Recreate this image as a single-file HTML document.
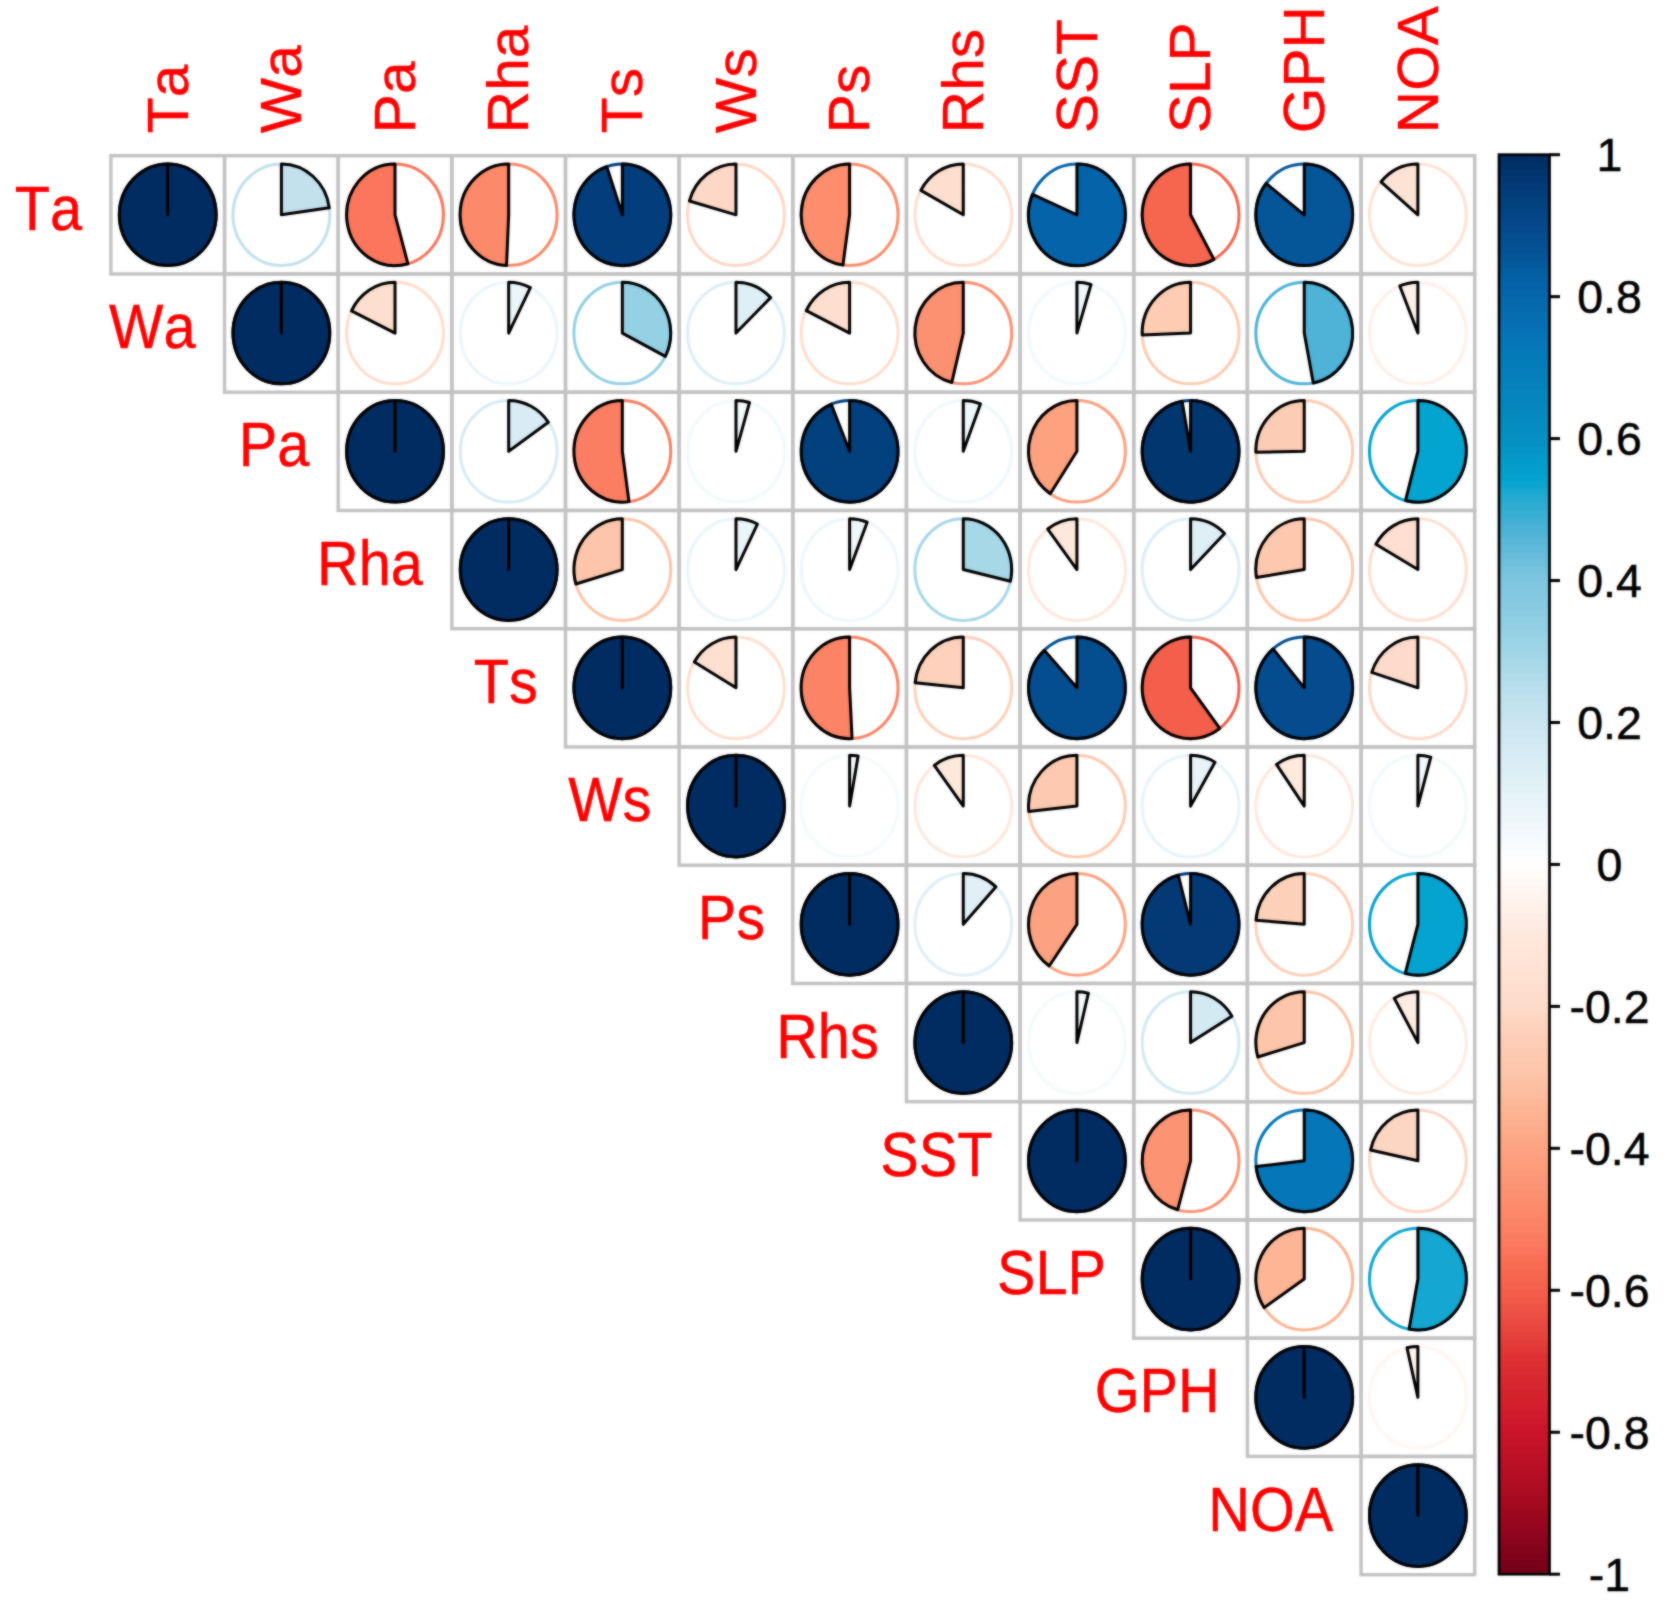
<!DOCTYPE html>
<html><head><meta charset="utf-8"><title>Correlation plot</title>
<style>html,body{margin:0;padding:0;background:#fff}svg{display:block}</style></head>
<body>
<svg width="1675" height="1619" viewBox="0 0 1675 1619">
<rect width="1675" height="1619" fill="#fff"/>
<filter id="soft" x="0" y="0" width="1675" height="1619" filterUnits="userSpaceOnUse" color-interpolation-filters="sRGB"><feGaussianBlur stdDeviation="1.0"/></filter>
<g id="c">
<rect width="1675" height="1619" fill="#fff"/>
<g fill="none" stroke="#c3c3c3" stroke-width="3.4">
<rect x="110.90" y="155.70" width="113.65" height="118.25"/>
<rect x="224.55" y="155.70" width="113.65" height="118.25"/>
<rect x="338.20" y="155.70" width="113.65" height="118.25"/>
<rect x="451.85" y="155.70" width="113.65" height="118.25"/>
<rect x="565.50" y="155.70" width="113.65" height="118.25"/>
<rect x="679.15" y="155.70" width="113.65" height="118.25"/>
<rect x="792.80" y="155.70" width="113.65" height="118.25"/>
<rect x="906.45" y="155.70" width="113.65" height="118.25"/>
<rect x="1020.10" y="155.70" width="113.65" height="118.25"/>
<rect x="1133.75" y="155.70" width="113.65" height="118.25"/>
<rect x="1247.40" y="155.70" width="113.65" height="118.25"/>
<rect x="1361.05" y="155.70" width="113.65" height="118.25"/>
<rect x="224.55" y="273.95" width="113.65" height="118.25"/>
<rect x="338.20" y="273.95" width="113.65" height="118.25"/>
<rect x="451.85" y="273.95" width="113.65" height="118.25"/>
<rect x="565.50" y="273.95" width="113.65" height="118.25"/>
<rect x="679.15" y="273.95" width="113.65" height="118.25"/>
<rect x="792.80" y="273.95" width="113.65" height="118.25"/>
<rect x="906.45" y="273.95" width="113.65" height="118.25"/>
<rect x="1020.10" y="273.95" width="113.65" height="118.25"/>
<rect x="1133.75" y="273.95" width="113.65" height="118.25"/>
<rect x="1247.40" y="273.95" width="113.65" height="118.25"/>
<rect x="1361.05" y="273.95" width="113.65" height="118.25"/>
<rect x="338.20" y="392.20" width="113.65" height="118.25"/>
<rect x="451.85" y="392.20" width="113.65" height="118.25"/>
<rect x="565.50" y="392.20" width="113.65" height="118.25"/>
<rect x="679.15" y="392.20" width="113.65" height="118.25"/>
<rect x="792.80" y="392.20" width="113.65" height="118.25"/>
<rect x="906.45" y="392.20" width="113.65" height="118.25"/>
<rect x="1020.10" y="392.20" width="113.65" height="118.25"/>
<rect x="1133.75" y="392.20" width="113.65" height="118.25"/>
<rect x="1247.40" y="392.20" width="113.65" height="118.25"/>
<rect x="1361.05" y="392.20" width="113.65" height="118.25"/>
<rect x="451.85" y="510.45" width="113.65" height="118.25"/>
<rect x="565.50" y="510.45" width="113.65" height="118.25"/>
<rect x="679.15" y="510.45" width="113.65" height="118.25"/>
<rect x="792.80" y="510.45" width="113.65" height="118.25"/>
<rect x="906.45" y="510.45" width="113.65" height="118.25"/>
<rect x="1020.10" y="510.45" width="113.65" height="118.25"/>
<rect x="1133.75" y="510.45" width="113.65" height="118.25"/>
<rect x="1247.40" y="510.45" width="113.65" height="118.25"/>
<rect x="1361.05" y="510.45" width="113.65" height="118.25"/>
<rect x="565.50" y="628.70" width="113.65" height="118.25"/>
<rect x="679.15" y="628.70" width="113.65" height="118.25"/>
<rect x="792.80" y="628.70" width="113.65" height="118.25"/>
<rect x="906.45" y="628.70" width="113.65" height="118.25"/>
<rect x="1020.10" y="628.70" width="113.65" height="118.25"/>
<rect x="1133.75" y="628.70" width="113.65" height="118.25"/>
<rect x="1247.40" y="628.70" width="113.65" height="118.25"/>
<rect x="1361.05" y="628.70" width="113.65" height="118.25"/>
<rect x="679.15" y="746.95" width="113.65" height="118.25"/>
<rect x="792.80" y="746.95" width="113.65" height="118.25"/>
<rect x="906.45" y="746.95" width="113.65" height="118.25"/>
<rect x="1020.10" y="746.95" width="113.65" height="118.25"/>
<rect x="1133.75" y="746.95" width="113.65" height="118.25"/>
<rect x="1247.40" y="746.95" width="113.65" height="118.25"/>
<rect x="1361.05" y="746.95" width="113.65" height="118.25"/>
<rect x="792.80" y="865.20" width="113.65" height="118.25"/>
<rect x="906.45" y="865.20" width="113.65" height="118.25"/>
<rect x="1020.10" y="865.20" width="113.65" height="118.25"/>
<rect x="1133.75" y="865.20" width="113.65" height="118.25"/>
<rect x="1247.40" y="865.20" width="113.65" height="118.25"/>
<rect x="1361.05" y="865.20" width="113.65" height="118.25"/>
<rect x="906.45" y="983.45" width="113.65" height="118.25"/>
<rect x="1020.10" y="983.45" width="113.65" height="118.25"/>
<rect x="1133.75" y="983.45" width="113.65" height="118.25"/>
<rect x="1247.40" y="983.45" width="113.65" height="118.25"/>
<rect x="1361.05" y="983.45" width="113.65" height="118.25"/>
<rect x="1020.10" y="1101.70" width="113.65" height="118.25"/>
<rect x="1133.75" y="1101.70" width="113.65" height="118.25"/>
<rect x="1247.40" y="1101.70" width="113.65" height="118.25"/>
<rect x="1361.05" y="1101.70" width="113.65" height="118.25"/>
<rect x="1133.75" y="1219.95" width="113.65" height="118.25"/>
<rect x="1247.40" y="1219.95" width="113.65" height="118.25"/>
<rect x="1361.05" y="1219.95" width="113.65" height="118.25"/>
<rect x="1247.40" y="1338.20" width="113.65" height="118.25"/>
<rect x="1361.05" y="1338.20" width="113.65" height="118.25"/>
<rect x="1361.05" y="1456.45" width="113.65" height="118.25"/>
</g>
<g fill="none" stroke-width="3.0">
<ellipse cx="167.73" cy="214.82" rx="48.40" ry="50.80" stroke="#012C61"/>
<ellipse cx="281.38" cy="214.82" rx="48.40" ry="50.80" stroke="#C2E1ED"/>
<ellipse cx="395.02" cy="214.82" rx="48.40" ry="50.80" stroke="#FB765C"/>
<ellipse cx="508.68" cy="214.82" rx="48.40" ry="50.80" stroke="#FC8969"/>
<ellipse cx="622.33" cy="214.82" rx="48.40" ry="50.80" stroke="#033D7B"/>
<ellipse cx="735.98" cy="214.82" rx="48.40" ry="50.80" stroke="#FDD8C7"/>
<ellipse cx="849.62" cy="214.82" rx="48.40" ry="50.80" stroke="#FC8D6D"/>
<ellipse cx="963.27" cy="214.82" rx="48.40" ry="50.80" stroke="#FEDFCF"/>
<ellipse cx="1076.93" cy="214.82" rx="48.40" ry="50.80" stroke="#0564A9"/>
<ellipse cx="1190.58" cy="214.82" rx="48.40" ry="50.80" stroke="#F6654E"/>
<ellipse cx="1304.23" cy="214.82" rx="48.40" ry="50.80" stroke="#045699"/>
<ellipse cx="1417.88" cy="214.82" rx="48.40" ry="50.80" stroke="#FEE3D5"/>
<ellipse cx="281.38" cy="333.07" rx="48.40" ry="50.80" stroke="#012C61"/>
<ellipse cx="395.02" cy="333.07" rx="48.40" ry="50.80" stroke="#FEDECE"/>
<ellipse cx="508.68" cy="333.07" rx="48.40" ry="50.80" stroke="#EBF6FA"/>
<ellipse cx="622.33" cy="333.07" rx="48.40" ry="50.80" stroke="#94D1E4"/>
<ellipse cx="735.98" cy="333.07" rx="48.40" ry="50.80" stroke="#DEEFF6"/>
<ellipse cx="849.62" cy="333.07" rx="48.40" ry="50.80" stroke="#FEDECE"/>
<ellipse cx="963.27" cy="333.07" rx="48.40" ry="50.80" stroke="#FC9171"/>
<ellipse cx="1076.93" cy="333.07" rx="48.40" ry="50.80" stroke="#F2F9FC"/>
<ellipse cx="1190.58" cy="333.07" rx="48.40" ry="50.80" stroke="#FDCCB3"/>
<ellipse cx="1304.23" cy="333.07" rx="48.40" ry="50.80" stroke="#4EB3D6"/>
<ellipse cx="1417.88" cy="333.07" rx="48.40" ry="50.80" stroke="#FFF0E9"/>
<ellipse cx="395.02" cy="451.32" rx="48.40" ry="50.80" stroke="#012C61"/>
<ellipse cx="508.68" cy="451.32" rx="48.40" ry="50.80" stroke="#D7ECF4"/>
<ellipse cx="622.33" cy="451.32" rx="48.40" ry="50.80" stroke="#FB7E62"/>
<ellipse cx="735.98" cy="451.32" rx="48.40" ry="50.80" stroke="#F3F9FC"/>
<ellipse cx="849.62" cy="451.32" rx="48.40" ry="50.80" stroke="#03407E"/>
<ellipse cx="963.27" cy="451.32" rx="48.40" ry="50.80" stroke="#EFF8FB"/>
<ellipse cx="1076.93" cy="451.32" rx="48.40" ry="50.80" stroke="#FDA17F"/>
<ellipse cx="1190.58" cy="451.32" rx="48.40" ry="50.80" stroke="#02366F"/>
<ellipse cx="1304.23" cy="451.32" rx="48.40" ry="50.80" stroke="#FDCCB4"/>
<ellipse cx="1417.88" cy="451.32" rx="48.40" ry="50.80" stroke="#04A4D0"/>
<ellipse cx="508.68" cy="569.58" rx="48.40" ry="50.80" stroke="#012C61"/>
<ellipse cx="622.33" cy="569.58" rx="48.40" ry="50.80" stroke="#FDC5A9"/>
<ellipse cx="735.98" cy="569.58" rx="48.40" ry="50.80" stroke="#EBF6FA"/>
<ellipse cx="849.62" cy="569.58" rx="48.40" ry="50.80" stroke="#EFF7FB"/>
<ellipse cx="963.27" cy="569.58" rx="48.40" ry="50.80" stroke="#A7D8E8"/>
<ellipse cx="1076.93" cy="569.58" rx="48.40" ry="50.80" stroke="#FEE8DB"/>
<ellipse cx="1190.58" cy="569.58" rx="48.40" ry="50.80" stroke="#DEEFF6"/>
<ellipse cx="1304.23" cy="569.58" rx="48.40" ry="50.80" stroke="#FDC8AE"/>
<ellipse cx="1417.88" cy="569.58" rx="48.40" ry="50.80" stroke="#FEDFD0"/>
<ellipse cx="622.33" cy="687.83" rx="48.40" ry="50.80" stroke="#012C61"/>
<ellipse cx="735.98" cy="687.83" rx="48.40" ry="50.80" stroke="#FEE0D0"/>
<ellipse cx="849.62" cy="687.83" rx="48.40" ry="50.80" stroke="#FC8365"/>
<ellipse cx="963.27" cy="687.83" rx="48.40" ry="50.80" stroke="#FDD1BC"/>
<ellipse cx="1076.93" cy="687.83" rx="48.40" ry="50.80" stroke="#044E90"/>
<ellipse cx="1190.58" cy="687.83" rx="48.40" ry="50.80" stroke="#F35F4A"/>
<ellipse cx="1304.23" cy="687.83" rx="48.40" ry="50.80" stroke="#044C8E"/>
<ellipse cx="1417.88" cy="687.83" rx="48.40" ry="50.80" stroke="#FDDACA"/>
<ellipse cx="735.98" cy="806.08" rx="48.40" ry="50.80" stroke="#012C61"/>
<ellipse cx="849.62" cy="806.08" rx="48.40" ry="50.80" stroke="#F7FBFD"/>
<ellipse cx="963.27" cy="806.08" rx="48.40" ry="50.80" stroke="#FEE8DC"/>
<ellipse cx="1076.93" cy="806.08" rx="48.40" ry="50.80" stroke="#FDCAB1"/>
<ellipse cx="1190.58" cy="806.08" rx="48.40" ry="50.80" stroke="#E8F4F9"/>
<ellipse cx="1304.23" cy="806.08" rx="48.40" ry="50.80" stroke="#FEE9DD"/>
<ellipse cx="1417.88" cy="806.08" rx="48.40" ry="50.80" stroke="#F3F9FC"/>
<ellipse cx="849.62" cy="924.33" rx="48.40" ry="50.80" stroke="#012C61"/>
<ellipse cx="963.27" cy="924.33" rx="48.40" ry="50.80" stroke="#E0F0F6"/>
<ellipse cx="1076.93" cy="924.33" rx="48.40" ry="50.80" stroke="#FDA280"/>
<ellipse cx="1190.58" cy="924.33" rx="48.40" ry="50.80" stroke="#033A76"/>
<ellipse cx="1304.23" cy="924.33" rx="48.40" ry="50.80" stroke="#FDD0BA"/>
<ellipse cx="1417.88" cy="924.33" rx="48.40" ry="50.80" stroke="#04A3D0"/>
<ellipse cx="963.27" cy="1042.58" rx="48.40" ry="50.80" stroke="#012C61"/>
<ellipse cx="1076.93" cy="1042.58" rx="48.40" ry="50.80" stroke="#F5FAFC"/>
<ellipse cx="1190.58" cy="1042.58" rx="48.40" ry="50.80" stroke="#D4EAF3"/>
<ellipse cx="1304.23" cy="1042.58" rx="48.40" ry="50.80" stroke="#FDC5A9"/>
<ellipse cx="1417.88" cy="1042.58" rx="48.40" ry="50.80" stroke="#FEECE2"/>
<ellipse cx="1076.93" cy="1160.83" rx="48.40" ry="50.80" stroke="#012C61"/>
<ellipse cx="1190.58" cy="1160.83" rx="48.40" ry="50.80" stroke="#FC9373"/>
<ellipse cx="1304.23" cy="1160.83" rx="48.40" ry="50.80" stroke="#0577B8"/>
<ellipse cx="1417.88" cy="1160.83" rx="48.40" ry="50.80" stroke="#FDD6C3"/>
<ellipse cx="1190.58" cy="1279.08" rx="48.40" ry="50.80" stroke="#012C61"/>
<ellipse cx="1304.23" cy="1279.08" rx="48.40" ry="50.80" stroke="#FDB595"/>
<ellipse cx="1417.88" cy="1279.08" rx="48.40" ry="50.80" stroke="#13A7D1"/>
<ellipse cx="1304.23" cy="1397.33" rx="48.40" ry="50.80" stroke="#012C61"/>
<ellipse cx="1417.88" cy="1397.33" rx="48.40" ry="50.80" stroke="#FFF6F2"/>
<ellipse cx="1417.88" cy="1515.58" rx="48.40" ry="50.80" stroke="#012C61"/>
</g>
<g stroke="#000" stroke-width="3.0" stroke-linejoin="round" stroke-linecap="round">
<ellipse cx="167.73" cy="214.82" rx="48.40" ry="50.80" fill="#012C61"/>
<path d="M167.73 214.82V164.02" fill="none"/>
<path d="M281.38 214.82L281.38 164.02A48.40 50.80 0 0 1 329.31 207.83Z" fill="#C2E1ED"/>
<path d="M395.02 214.82L395.02 164.02A48.40 50.80 0 1 0 407.94 263.78Z" fill="#FB765C"/>
<path d="M508.68 214.82L508.68 164.02A48.40 50.80 0 0 0 506.55 265.58Z" fill="#FC8969"/>
<path d="M622.33 214.82L622.33 164.02A48.40 50.80 0 1 1 606.79 166.71Z" fill="#033D7B"/>
<path d="M735.98 214.82L735.98 164.02A48.40 50.80 0 0 0 689.41 200.96Z" fill="#FDD8C7"/>
<path d="M849.62 214.82L849.62 164.02A48.40 50.80 0 0 0 842.96 265.14Z" fill="#FC8D6D"/>
<path d="M963.27 214.82L963.27 164.02A48.40 50.80 0 0 0 920.86 190.35Z" fill="#FEDFCF"/>
<path d="M1076.93 214.82L1076.93 164.02A48.40 50.80 0 1 1 1032.63 194.36Z" fill="#0564A9"/>
<path d="M1190.58 214.82L1190.58 164.02A48.40 50.80 0 1 0 1213.89 259.34Z" fill="#F6654E"/>
<path d="M1304.23 214.82L1304.23 164.02A48.40 50.80 0 1 1 1266.17 183.44Z" fill="#045699"/>
<path d="M1417.88 214.82L1417.88 164.02A48.40 50.80 0 0 0 1380.97 181.95Z" fill="#FEE3D5"/>
<ellipse cx="281.38" cy="333.07" rx="48.40" ry="50.80" fill="#012C61"/>
<path d="M281.38 333.07V282.27" fill="none"/>
<path d="M395.02 333.07L395.02 282.27A48.40 50.80 0 0 0 351.49 310.87Z" fill="#FEDECE"/>
<path d="M508.68 333.07L508.68 282.27A48.40 50.80 0 0 1 530.38 287.67Z" fill="#EBF6FA"/>
<path d="M622.33 333.07L622.33 282.27A48.40 50.80 0 0 1 665.31 356.42Z" fill="#94D1E4"/>
<path d="M735.98 333.07L735.98 282.27A48.40 50.80 0 0 1 770.63 297.61Z" fill="#DEEFF6"/>
<path d="M849.62 333.07L849.62 282.27A48.40 50.80 0 0 0 806.23 310.58Z" fill="#FEDECE"/>
<path d="M963.27 333.07L963.27 282.27A48.40 50.80 0 0 0 951.83 382.43Z" fill="#FC9171"/>
<path d="M1076.93 333.07L1076.93 282.27A48.40 50.80 0 0 1 1091.01 284.47Z" fill="#F2F9FC"/>
<path d="M1190.58 333.07L1190.58 282.27A48.40 50.80 0 0 0 1142.21 334.99Z" fill="#FDCCB3"/>
<path d="M1304.23 333.07L1304.23 282.27A48.40 50.80 0 0 1 1313.29 382.98Z" fill="#4EB3D6"/>
<path d="M1417.88 333.07L1417.88 282.27A48.40 50.80 0 0 0 1399.78 285.96Z" fill="#FFF0E9"/>
<ellipse cx="395.02" cy="451.32" rx="48.40" ry="50.80" fill="#012C61"/>
<path d="M395.02 451.32V400.52" fill="none"/>
<path d="M508.68 451.32L508.68 400.52A48.40 50.80 0 0 1 548.36 422.25Z" fill="#D7ECF4"/>
<path d="M622.33 451.32L622.33 400.52A48.40 50.80 0 1 0 628.99 501.64Z" fill="#FB7E62"/>
<path d="M735.98 451.32L735.98 400.52A48.40 50.80 0 0 1 749.48 402.54Z" fill="#F3F9FC"/>
<path d="M849.62 451.32L849.62 400.52A48.40 50.80 0 1 1 831.24 404.33Z" fill="#03407E"/>
<path d="M963.27 451.32L963.27 400.52A48.40 50.80 0 0 1 980.53 403.86Z" fill="#EFF8FB"/>
<path d="M1076.93 451.32L1076.93 400.52A48.40 50.80 0 0 0 1050.23 493.70Z" fill="#FDA17F"/>
<path d="M1190.58 451.32L1190.58 400.52A48.40 50.80 0 1 1 1182.10 401.31Z" fill="#02366F"/>
<path d="M1304.23 451.32L1304.23 400.52A48.40 50.80 0 0 0 1255.83 452.28Z" fill="#FDCCB4"/>
<path d="M1417.88 451.32L1417.88 400.52A48.40 50.80 0 1 1 1405.54 500.45Z" fill="#04A4D0"/>
<ellipse cx="508.68" cy="569.58" rx="48.40" ry="50.80" fill="#012C61"/>
<path d="M508.68 569.58V518.78" fill="none"/>
<path d="M622.33 569.58L622.33 518.78A48.40 50.80 0 0 0 575.93 584.05Z" fill="#FDC5A9"/>
<path d="M735.98 569.58L735.98 518.78A48.40 50.80 0 0 1 757.40 524.03Z" fill="#EBF6FA"/>
<path d="M849.62 569.58L849.62 518.78A48.40 50.80 0 0 1 867.16 522.23Z" fill="#EFF7FB"/>
<path d="M963.27 569.58L963.27 518.78A48.40 50.80 0 0 1 1010.37 581.28Z" fill="#A7D8E8"/>
<path d="M1076.93 569.58L1076.93 518.78A48.40 50.80 0 0 0 1047.74 529.05Z" fill="#FEE8DB"/>
<path d="M1190.58 569.58L1190.58 518.78A48.40 50.80 0 0 1 1224.58 533.43Z" fill="#DEEFF6"/>
<path d="M1304.23 569.58L1304.23 518.78A48.40 50.80 0 0 0 1256.42 577.52Z" fill="#FDC8AE"/>
<path d="M1417.88 569.58L1417.88 518.78A48.40 50.80 0 0 0 1375.91 544.27Z" fill="#FEDFD0"/>
<ellipse cx="622.33" cy="687.83" rx="48.40" ry="50.80" fill="#012C61"/>
<path d="M622.33 687.83V637.03" fill="none"/>
<path d="M735.98 687.83L735.98 637.03A48.40 50.80 0 0 0 694.32 661.97Z" fill="#FEE0D0"/>
<path d="M849.62 687.83L849.62 637.03A48.40 50.80 0 1 0 852.06 738.56Z" fill="#FC8365"/>
<path d="M963.27 687.83L963.27 637.03A48.40 50.80 0 0 0 915.12 682.73Z" fill="#FDD1BC"/>
<path d="M1076.93 687.83L1076.93 637.03A48.40 50.80 0 1 1 1044.24 650.36Z" fill="#044E90"/>
<path d="M1190.58 687.83L1190.58 637.03A48.40 50.80 0 1 0 1219.76 728.35Z" fill="#F35F4A"/>
<path d="M1304.23 687.83L1304.23 637.03A48.40 50.80 0 1 1 1273.14 648.89Z" fill="#044C8E"/>
<path d="M1417.88 687.83L1417.88 637.03A48.40 50.80 0 0 0 1371.75 672.43Z" fill="#FDDACA"/>
<ellipse cx="735.98" cy="806.08" rx="48.40" ry="50.80" fill="#012C61"/>
<path d="M735.98 806.08V755.28" fill="none"/>
<path d="M849.62 806.08L849.62 755.28A48.40 50.80 0 0 1 858.10 756.06Z" fill="#F7FBFD"/>
<path d="M963.27 806.08L963.27 755.28A48.40 50.80 0 0 0 934.34 765.36Z" fill="#FEE8DC"/>
<path d="M1076.93 806.08L1076.93 755.28A48.40 50.80 0 0 0 1028.80 811.49Z" fill="#FDCAB1"/>
<path d="M1190.58 806.08L1190.58 755.28A48.40 50.80 0 0 1 1214.95 762.19Z" fill="#E8F4F9"/>
<path d="M1304.23 806.08L1304.23 755.28A48.40 50.80 0 0 0 1276.52 764.42Z" fill="#FEE9DD"/>
<path d="M1417.88 806.08L1417.88 755.28A48.40 50.80 0 0 1 1430.79 757.12Z" fill="#F3F9FC"/>
<ellipse cx="849.62" cy="924.33" rx="48.40" ry="50.80" fill="#012C61"/>
<path d="M849.62 924.33V873.53" fill="none"/>
<path d="M963.27 924.33L963.27 873.53A48.40 50.80 0 0 1 995.96 886.86Z" fill="#E0F0F6"/>
<path d="M1076.93 924.33L1076.93 873.53A48.40 50.80 0 0 0 1049.22 965.98Z" fill="#FDA280"/>
<path d="M1190.58 924.33L1190.58 873.53A48.40 50.80 0 1 1 1178.24 875.20Z" fill="#033A76"/>
<path d="M1304.23 924.33L1304.23 873.53A48.40 50.80 0 0 0 1255.99 920.18Z" fill="#FDD0BA"/>
<path d="M1417.88 924.33L1417.88 873.53A48.40 50.80 0 1 1 1405.25 973.37Z" fill="#04A3D0"/>
<ellipse cx="963.27" cy="1042.58" rx="48.40" ry="50.80" fill="#012C61"/>
<path d="M963.27 1042.58V991.78" fill="none"/>
<path d="M1076.93 1042.58L1076.93 991.78A48.40 50.80 0 0 1 1088.37 993.22Z" fill="#F5FAFC"/>
<path d="M1190.58 1042.58L1190.58 991.78A48.40 50.80 0 0 1 1231.92 1016.17Z" fill="#D4EAF3"/>
<path d="M1304.23 1042.58L1304.23 991.78A48.40 50.80 0 0 0 1257.83 1057.05Z" fill="#FDC5A9"/>
<path d="M1417.88 1042.58L1417.88 991.78A48.40 50.80 0 0 0 1394.29 998.21Z" fill="#FEECE2"/>
<ellipse cx="1076.93" cy="1160.83" rx="48.40" ry="50.80" fill="#012C61"/>
<path d="M1076.93 1160.83V1110.03" fill="none"/>
<path d="M1190.58 1160.83L1190.58 1110.03A48.40 50.80 0 0 0 1177.66 1209.78Z" fill="#FC9373"/>
<path d="M1304.23 1160.83L1304.23 1110.03A48.40 50.80 0 1 1 1256.13 1166.56Z" fill="#0577B8"/>
<path d="M1417.88 1160.83L1417.88 1110.03A48.40 50.80 0 0 0 1370.58 1150.06Z" fill="#FDD6C3"/>
<ellipse cx="1190.58" cy="1279.08" rx="48.40" ry="50.80" fill="#012C61"/>
<path d="M1190.58 1279.08V1228.28" fill="none"/>
<path d="M1304.23 1279.08L1304.23 1228.28A48.40 50.80 0 0 0 1264.19 1307.63Z" fill="#FDB595"/>
<path d="M1417.88 1279.08L1417.88 1228.28A48.40 50.80 0 1 1 1409.10 1329.03Z" fill="#13A7D1"/>
<ellipse cx="1304.23" cy="1397.33" rx="48.40" ry="50.80" fill="#012C61"/>
<path d="M1304.23 1397.33V1346.53" fill="none"/>
<path d="M1417.88 1397.33L1417.88 1346.53A48.40 50.80 0 0 0 1407.02 1347.82Z" fill="#FFF6F2"/>
<ellipse cx="1417.88" cy="1515.58" rx="48.40" ry="50.80" fill="#012C61"/>
<path d="M1417.88 1515.58V1464.78" fill="none"/>
</g>
<g font-family="'Liberation Sans', Arial, sans-serif" font-size="57.7" fill="#FF0000" stroke="#FF0000" stroke-width="0.4" style="font-kerning:none">
<text transform="translate(82.00 229.82) scale(1 1.1)" text-anchor="end">Ta</text>
<text transform="translate(195.65 348.07) scale(1 1.1)" text-anchor="end">Wa</text>
<text transform="translate(309.30 466.32) scale(1 1.1)" text-anchor="end">Pa</text>
<text transform="translate(422.95 584.58) scale(1 1.1)" text-anchor="end">Rha</text>
<text transform="translate(537.80 702.83) scale(1 1.1)" text-anchor="end">Ts</text>
<text transform="translate(651.45 821.08) scale(1 1.1)" text-anchor="end">Ws</text>
<text transform="translate(765.10 939.33) scale(1 1.1)" text-anchor="end">Ps</text>
<text transform="translate(878.75 1057.58) scale(1 1.1)" text-anchor="end">Rhs</text>
<text transform="translate(992.40 1175.83) scale(1 1.1)" text-anchor="end">SST</text>
<text transform="translate(1106.05 1294.08) scale(1 1.1)" text-anchor="end">SLP</text>
<text transform="translate(1219.70 1412.33) scale(1 1.1)" text-anchor="end">GPH</text>
<text transform="translate(1333.35 1530.58) scale(1 1.1)" text-anchor="end">NOA</text>
<text transform="translate(187.53 133.20) rotate(-90) scale(1.017 1)">Ta</text>
<text transform="translate(301.18 133.20) rotate(-90) scale(1.017 1)">Wa</text>
<text transform="translate(414.82 133.20) rotate(-90) scale(1.017 1)">Pa</text>
<text transform="translate(528.48 133.20) rotate(-90) scale(1.017 1)">Rha</text>
<text transform="translate(642.12 133.20) rotate(-90) scale(1.017 1)">Ts</text>
<text transform="translate(755.77 133.20) rotate(-90) scale(1.017 1)">Ws</text>
<text transform="translate(869.42 133.20) rotate(-90) scale(1.017 1)">Ps</text>
<text transform="translate(983.07 133.20) rotate(-90) scale(1.017 1)">Rhs</text>
<text transform="translate(1096.73 133.20) rotate(-90) scale(1.017 1)">SST</text>
<text transform="translate(1210.38 133.20) rotate(-90) scale(1.017 1)">SLP</text>
<text transform="translate(1324.03 133.20) rotate(-90) scale(1.017 1)">GPH</text>
<text transform="translate(1437.68 133.20) rotate(-90) scale(1.017 1)">NOA</text>
</g>
<defs><linearGradient id="cb" x1="0" y1="0" x2="0" y2="1">
<stop offset="0.0000" stop-color="#012E64"/><stop offset="0.0050" stop-color="#012E64"/>
<stop offset="0.0050" stop-color="#023168"/><stop offset="0.0100" stop-color="#023168"/>
<stop offset="0.0100" stop-color="#02346E"/><stop offset="0.0150" stop-color="#02346E"/>
<stop offset="0.0150" stop-color="#023872"/><stop offset="0.0200" stop-color="#023872"/>
<stop offset="0.0200" stop-color="#033B78"/><stop offset="0.0250" stop-color="#033B78"/>
<stop offset="0.0250" stop-color="#033E7C"/><stop offset="0.0300" stop-color="#033E7C"/>
<stop offset="0.0300" stop-color="#03417F"/><stop offset="0.0350" stop-color="#03417F"/>
<stop offset="0.0350" stop-color="#034382"/><stop offset="0.0400" stop-color="#034382"/>
<stop offset="0.0400" stop-color="#034585"/><stop offset="0.0450" stop-color="#034585"/>
<stop offset="0.0450" stop-color="#044889"/><stop offset="0.0500" stop-color="#044889"/>
<stop offset="0.0500" stop-color="#044A8C"/><stop offset="0.0550" stop-color="#044A8C"/>
<stop offset="0.0550" stop-color="#044D8F"/><stop offset="0.0600" stop-color="#044D8F"/>
<stop offset="0.0600" stop-color="#045093"/><stop offset="0.0650" stop-color="#045093"/>
<stop offset="0.0650" stop-color="#045396"/><stop offset="0.0700" stop-color="#045396"/>
<stop offset="0.0700" stop-color="#045699"/><stop offset="0.0750" stop-color="#045699"/>
<stop offset="0.0750" stop-color="#045A9D"/><stop offset="0.0800" stop-color="#045A9D"/>
<stop offset="0.0800" stop-color="#045EA2"/><stop offset="0.0850" stop-color="#045EA2"/>
<stop offset="0.0850" stop-color="#0561A6"/><stop offset="0.0900" stop-color="#0561A6"/>
<stop offset="0.0900" stop-color="#0564A9"/><stop offset="0.0950" stop-color="#0564A9"/>
<stop offset="0.0950" stop-color="#0566AB"/><stop offset="0.1000" stop-color="#0566AB"/>
<stop offset="0.1000" stop-color="#0569AC"/><stop offset="0.1050" stop-color="#0569AC"/>
<stop offset="0.1050" stop-color="#056BAE"/><stop offset="0.1100" stop-color="#056BAE"/>
<stop offset="0.1100" stop-color="#056DB0"/><stop offset="0.1150" stop-color="#056DB0"/>
<stop offset="0.1150" stop-color="#056FB2"/><stop offset="0.1200" stop-color="#056FB2"/>
<stop offset="0.1200" stop-color="#0571B4"/><stop offset="0.1250" stop-color="#0571B4"/>
<stop offset="0.1250" stop-color="#0574B5"/><stop offset="0.1300" stop-color="#0574B5"/>
<stop offset="0.1300" stop-color="#0576B7"/><stop offset="0.1350" stop-color="#0576B7"/>
<stop offset="0.1350" stop-color="#0578B8"/><stop offset="0.1400" stop-color="#0578B8"/>
<stop offset="0.1400" stop-color="#057AB9"/><stop offset="0.1450" stop-color="#057AB9"/>
<stop offset="0.1450" stop-color="#057CBA"/><stop offset="0.1500" stop-color="#057CBA"/>
<stop offset="0.1500" stop-color="#057EBB"/><stop offset="0.1550" stop-color="#057EBB"/>
<stop offset="0.1550" stop-color="#0580BB"/><stop offset="0.1600" stop-color="#0580BB"/>
<stop offset="0.1600" stop-color="#0582BC"/><stop offset="0.1650" stop-color="#0582BC"/>
<stop offset="0.1650" stop-color="#0584BD"/><stop offset="0.1700" stop-color="#0584BD"/>
<stop offset="0.1700" stop-color="#0585BE"/><stop offset="0.1750" stop-color="#0585BE"/>
<stop offset="0.1750" stop-color="#0587BF"/><stop offset="0.1800" stop-color="#0587BF"/>
<stop offset="0.1800" stop-color="#0589BF"/><stop offset="0.1850" stop-color="#0589BF"/>
<stop offset="0.1850" stop-color="#058BC0"/><stop offset="0.1900" stop-color="#058BC0"/>
<stop offset="0.1900" stop-color="#058DC1"/><stop offset="0.1950" stop-color="#058DC1"/>
<stop offset="0.1950" stop-color="#058FC2"/><stop offset="0.2000" stop-color="#058FC2"/>
<stop offset="0.2000" stop-color="#0592C3"/><stop offset="0.2050" stop-color="#0592C3"/>
<stop offset="0.2050" stop-color="#0595C6"/><stop offset="0.2100" stop-color="#0595C6"/>
<stop offset="0.2100" stop-color="#0598C8"/><stop offset="0.2150" stop-color="#0598C8"/>
<stop offset="0.2150" stop-color="#049CCA"/><stop offset="0.2200" stop-color="#049CCA"/>
<stop offset="0.2200" stop-color="#049FCD"/><stop offset="0.2250" stop-color="#049FCD"/>
<stop offset="0.2250" stop-color="#04A2CF"/><stop offset="0.2300" stop-color="#04A2CF"/>
<stop offset="0.2300" stop-color="#0BA5D0"/><stop offset="0.2350" stop-color="#0BA5D0"/>
<stop offset="0.2350" stop-color="#19A8D1"/><stop offset="0.2400" stop-color="#19A8D1"/>
<stop offset="0.2400" stop-color="#25AAD2"/><stop offset="0.2450" stop-color="#25AAD2"/>
<stop offset="0.2450" stop-color="#2EACD2"/><stop offset="0.2500" stop-color="#2EACD2"/>
<stop offset="0.2500" stop-color="#37AED4"/><stop offset="0.2550" stop-color="#37AED4"/>
<stop offset="0.2550" stop-color="#40B0D4"/><stop offset="0.2600" stop-color="#40B0D4"/>
<stop offset="0.2600" stop-color="#49B2D6"/><stop offset="0.2650" stop-color="#49B2D6"/>
<stop offset="0.2650" stop-color="#51B4D7"/><stop offset="0.2700" stop-color="#51B4D7"/>
<stop offset="0.2700" stop-color="#58B7D8"/><stop offset="0.2750" stop-color="#58B7D8"/>
<stop offset="0.2750" stop-color="#5FB9D9"/><stop offset="0.2800" stop-color="#5FB9D9"/>
<stop offset="0.2800" stop-color="#66BCDA"/><stop offset="0.2850" stop-color="#66BCDA"/>
<stop offset="0.2850" stop-color="#6DBFDC"/><stop offset="0.2900" stop-color="#6DBFDC"/>
<stop offset="0.2900" stop-color="#74C1DD"/><stop offset="0.2950" stop-color="#74C1DD"/>
<stop offset="0.2950" stop-color="#7BC4DE"/><stop offset="0.3000" stop-color="#7BC4DE"/>
<stop offset="0.3000" stop-color="#7FC6DF"/><stop offset="0.3050" stop-color="#7FC6DF"/>
<stop offset="0.3050" stop-color="#82C7E0"/><stop offset="0.3100" stop-color="#82C7E0"/>
<stop offset="0.3100" stop-color="#85C9E1"/><stop offset="0.3150" stop-color="#85C9E1"/>
<stop offset="0.3150" stop-color="#88CAE2"/><stop offset="0.3200" stop-color="#88CAE2"/>
<stop offset="0.3200" stop-color="#8BCCE2"/><stop offset="0.3250" stop-color="#8BCCE2"/>
<stop offset="0.3250" stop-color="#8ECEE3"/><stop offset="0.3300" stop-color="#8ECEE3"/>
<stop offset="0.3300" stop-color="#91CFE4"/><stop offset="0.3350" stop-color="#91CFE4"/>
<stop offset="0.3350" stop-color="#95D1E4"/><stop offset="0.3400" stop-color="#95D1E4"/>
<stop offset="0.3400" stop-color="#9AD3E6"/><stop offset="0.3450" stop-color="#9AD3E6"/>
<stop offset="0.3450" stop-color="#9ED5E6"/><stop offset="0.3500" stop-color="#9ED5E6"/>
<stop offset="0.3500" stop-color="#A3D7E8"/><stop offset="0.3550" stop-color="#A3D7E8"/>
<stop offset="0.3550" stop-color="#A8D9E8"/><stop offset="0.3600" stop-color="#A8D9E8"/>
<stop offset="0.3600" stop-color="#ADDAE9"/><stop offset="0.3650" stop-color="#ADDAE9"/>
<stop offset="0.3650" stop-color="#B1DCEA"/><stop offset="0.3700" stop-color="#B1DCEA"/>
<stop offset="0.3700" stop-color="#B6DDEB"/><stop offset="0.3750" stop-color="#B6DDEB"/>
<stop offset="0.3750" stop-color="#BADFEC"/><stop offset="0.3800" stop-color="#BADFEC"/>
<stop offset="0.3800" stop-color="#BFE0ED"/><stop offset="0.3850" stop-color="#BFE0ED"/>
<stop offset="0.3850" stop-color="#C2E2ED"/><stop offset="0.3900" stop-color="#C2E2ED"/>
<stop offset="0.3900" stop-color="#C5E3EE"/><stop offset="0.3950" stop-color="#C5E3EE"/>
<stop offset="0.3950" stop-color="#C8E4EF"/><stop offset="0.4000" stop-color="#C8E4EF"/>
<stop offset="0.4000" stop-color="#CBE6F0"/><stop offset="0.4050" stop-color="#CBE6F0"/>
<stop offset="0.4050" stop-color="#CEE7F1"/><stop offset="0.4100" stop-color="#CEE7F1"/>
<stop offset="0.4100" stop-color="#D1E9F2"/><stop offset="0.4150" stop-color="#D1E9F2"/>
<stop offset="0.4150" stop-color="#D4EAF3"/><stop offset="0.4200" stop-color="#D4EAF3"/>
<stop offset="0.4200" stop-color="#D7EBF4"/><stop offset="0.4250" stop-color="#D7EBF4"/>
<stop offset="0.4250" stop-color="#D9EDF4"/><stop offset="0.4300" stop-color="#D9EDF4"/>
<stop offset="0.4300" stop-color="#DCEEF5"/><stop offset="0.4350" stop-color="#DCEEF5"/>
<stop offset="0.4350" stop-color="#DEEFF6"/><stop offset="0.4400" stop-color="#DEEFF6"/>
<stop offset="0.4400" stop-color="#E1F0F7"/><stop offset="0.4450" stop-color="#E1F0F7"/>
<stop offset="0.4450" stop-color="#E3F2F7"/><stop offset="0.4500" stop-color="#E3F2F7"/>
<stop offset="0.4500" stop-color="#E6F3F8"/><stop offset="0.4550" stop-color="#E6F3F8"/>
<stop offset="0.4550" stop-color="#E8F4F9"/><stop offset="0.4600" stop-color="#E8F4F9"/>
<stop offset="0.4600" stop-color="#EBF5FA"/><stop offset="0.4650" stop-color="#EBF5FA"/>
<stop offset="0.4650" stop-color="#EDF7FA"/><stop offset="0.4700" stop-color="#EDF7FA"/>
<stop offset="0.4700" stop-color="#F0F8FB"/><stop offset="0.4750" stop-color="#F0F8FB"/>
<stop offset="0.4750" stop-color="#F3F9FC"/><stop offset="0.4800" stop-color="#F3F9FC"/>
<stop offset="0.4800" stop-color="#F6FAFC"/><stop offset="0.4850" stop-color="#F6FAFC"/>
<stop offset="0.4850" stop-color="#F8FCFD"/><stop offset="0.4900" stop-color="#F8FCFD"/>
<stop offset="0.4900" stop-color="#FBFDFE"/><stop offset="0.4950" stop-color="#FBFDFE"/>
<stop offset="0.4950" stop-color="#FEFEFF"/><stop offset="0.5000" stop-color="#FEFEFF"/>
<stop offset="0.5000" stop-color="#FFFEFD"/><stop offset="0.5050" stop-color="#FFFEFD"/>
<stop offset="0.5050" stop-color="#FFFBF9"/><stop offset="0.5100" stop-color="#FFFBF9"/>
<stop offset="0.5100" stop-color="#FFF9F6"/><stop offset="0.5150" stop-color="#FFF9F6"/>
<stop offset="0.5150" stop-color="#FFF6F2"/><stop offset="0.5200" stop-color="#FFF6F2"/>
<stop offset="0.5200" stop-color="#FFF4EE"/><stop offset="0.5250" stop-color="#FFF4EE"/>
<stop offset="0.5250" stop-color="#FFF2EB"/><stop offset="0.5300" stop-color="#FFF2EB"/>
<stop offset="0.5300" stop-color="#FFF0E8"/><stop offset="0.5350" stop-color="#FFF0E8"/>
<stop offset="0.5350" stop-color="#FEEDE4"/><stop offset="0.5400" stop-color="#FEEDE4"/>
<stop offset="0.5400" stop-color="#FEEBE1"/><stop offset="0.5450" stop-color="#FEEBE1"/>
<stop offset="0.5450" stop-color="#FEE9DE"/><stop offset="0.5500" stop-color="#FEE9DE"/>
<stop offset="0.5500" stop-color="#FEE7DB"/><stop offset="0.5550" stop-color="#FEE7DB"/>
<stop offset="0.5550" stop-color="#FEE6D9"/><stop offset="0.5600" stop-color="#FEE6D9"/>
<stop offset="0.5600" stop-color="#FEE5D7"/><stop offset="0.5650" stop-color="#FEE5D7"/>
<stop offset="0.5650" stop-color="#FEE4D6"/><stop offset="0.5700" stop-color="#FEE4D6"/>
<stop offset="0.5700" stop-color="#FEE2D4"/><stop offset="0.5750" stop-color="#FEE2D4"/>
<stop offset="0.5750" stop-color="#FEE1D2"/><stop offset="0.5800" stop-color="#FEE1D2"/>
<stop offset="0.5800" stop-color="#FEE0D0"/><stop offset="0.5850" stop-color="#FEE0D0"/>
<stop offset="0.5850" stop-color="#FEDECE"/><stop offset="0.5900" stop-color="#FEDECE"/>
<stop offset="0.5900" stop-color="#FEDCCC"/><stop offset="0.5950" stop-color="#FEDCCC"/>
<stop offset="0.5950" stop-color="#FDDBCB"/><stop offset="0.6000" stop-color="#FDDBCB"/>
<stop offset="0.6000" stop-color="#FDD9C8"/><stop offset="0.6050" stop-color="#FDD9C8"/>
<stop offset="0.6050" stop-color="#FDD6C4"/><stop offset="0.6100" stop-color="#FDD6C4"/>
<stop offset="0.6100" stop-color="#FDD3BF"/><stop offset="0.6150" stop-color="#FDD3BF"/>
<stop offset="0.6150" stop-color="#FDD1BB"/><stop offset="0.6200" stop-color="#FDD1BB"/>
<stop offset="0.6200" stop-color="#FDCEB7"/><stop offset="0.6250" stop-color="#FDCEB7"/>
<stop offset="0.6250" stop-color="#FDCCB4"/><stop offset="0.6300" stop-color="#FDCCB4"/>
<stop offset="0.6300" stop-color="#FDCAB1"/><stop offset="0.6350" stop-color="#FDCAB1"/>
<stop offset="0.6350" stop-color="#FDC9AF"/><stop offset="0.6400" stop-color="#FDC9AF"/>
<stop offset="0.6400" stop-color="#FDC7AC"/><stop offset="0.6450" stop-color="#FDC7AC"/>
<stop offset="0.6450" stop-color="#FDC5A9"/><stop offset="0.6500" stop-color="#FDC5A9"/>
<stop offset="0.6500" stop-color="#FDC2A6"/><stop offset="0.6550" stop-color="#FDC2A6"/>
<stop offset="0.6550" stop-color="#FDBFA2"/><stop offset="0.6600" stop-color="#FDBFA2"/>
<stop offset="0.6600" stop-color="#FDBC9D"/><stop offset="0.6650" stop-color="#FDBC9D"/>
<stop offset="0.6650" stop-color="#FDB899"/><stop offset="0.6700" stop-color="#FDB899"/>
<stop offset="0.6700" stop-color="#FDB595"/><stop offset="0.6750" stop-color="#FDB595"/>
<stop offset="0.6750" stop-color="#FDB291"/><stop offset="0.6800" stop-color="#FDB291"/>
<stop offset="0.6800" stop-color="#FDAE8E"/><stop offset="0.6850" stop-color="#FDAE8E"/>
<stop offset="0.6850" stop-color="#FDAB8A"/><stop offset="0.6900" stop-color="#FDAB8A"/>
<stop offset="0.6900" stop-color="#FDA886"/><stop offset="0.6950" stop-color="#FDA886"/>
<stop offset="0.6950" stop-color="#FDA583"/><stop offset="0.7000" stop-color="#FDA583"/>
<stop offset="0.7000" stop-color="#FDA280"/><stop offset="0.7050" stop-color="#FDA280"/>
<stop offset="0.7050" stop-color="#FD9F7D"/><stop offset="0.7100" stop-color="#FD9F7D"/>
<stop offset="0.7100" stop-color="#FD9C7B"/><stop offset="0.7150" stop-color="#FD9C7B"/>
<stop offset="0.7150" stop-color="#FC9978"/><stop offset="0.7200" stop-color="#FC9978"/>
<stop offset="0.7200" stop-color="#FC9676"/><stop offset="0.7250" stop-color="#FC9676"/>
<stop offset="0.7250" stop-color="#FC9373"/><stop offset="0.7300" stop-color="#FC9373"/>
<stop offset="0.7300" stop-color="#FC9171"/><stop offset="0.7350" stop-color="#FC9171"/>
<stop offset="0.7350" stop-color="#FC8E6E"/><stop offset="0.7400" stop-color="#FC8E6E"/>
<stop offset="0.7400" stop-color="#FC8B6B"/><stop offset="0.7450" stop-color="#FC8B6B"/>
<stop offset="0.7450" stop-color="#FC8869"/><stop offset="0.7500" stop-color="#FC8869"/>
<stop offset="0.7500" stop-color="#FC8466"/><stop offset="0.7550" stop-color="#FC8466"/>
<stop offset="0.7550" stop-color="#FC8164"/><stop offset="0.7600" stop-color="#FC8164"/>
<stop offset="0.7600" stop-color="#FB7D61"/><stop offset="0.7650" stop-color="#FB7D61"/>
<stop offset="0.7650" stop-color="#FB795E"/><stop offset="0.7700" stop-color="#FB795E"/>
<stop offset="0.7700" stop-color="#FA755B"/><stop offset="0.7750" stop-color="#FA755B"/>
<stop offset="0.7750" stop-color="#F97057"/><stop offset="0.7800" stop-color="#F97057"/>
<stop offset="0.7800" stop-color="#F86C54"/><stop offset="0.7850" stop-color="#F86C54"/>
<stop offset="0.7850" stop-color="#F76750"/><stop offset="0.7900" stop-color="#F76750"/>
<stop offset="0.7900" stop-color="#F6644D"/><stop offset="0.7950" stop-color="#F6644D"/>
<stop offset="0.7950" stop-color="#F4614C"/><stop offset="0.8000" stop-color="#F4614C"/>
<stop offset="0.8000" stop-color="#F35E4A"/><stop offset="0.8050" stop-color="#F35E4A"/>
<stop offset="0.8050" stop-color="#F15947"/><stop offset="0.8100" stop-color="#F15947"/>
<stop offset="0.8100" stop-color="#EE5445"/><stop offset="0.8150" stop-color="#EE5445"/>
<stop offset="0.8150" stop-color="#EC4F43"/><stop offset="0.8200" stop-color="#EC4F43"/>
<stop offset="0.8200" stop-color="#EA4A40"/><stop offset="0.8250" stop-color="#EA4A40"/>
<stop offset="0.8250" stop-color="#E8463E"/><stop offset="0.8300" stop-color="#E8463E"/>
<stop offset="0.8300" stop-color="#E6413B"/><stop offset="0.8350" stop-color="#E6413B"/>
<stop offset="0.8350" stop-color="#E33C39"/><stop offset="0.8400" stop-color="#E33C39"/>
<stop offset="0.8400" stop-color="#E13737"/><stop offset="0.8450" stop-color="#E13737"/>
<stop offset="0.8450" stop-color="#DF3234"/><stop offset="0.8500" stop-color="#DF3234"/>
<stop offset="0.8500" stop-color="#DD2F32"/><stop offset="0.8550" stop-color="#DD2F32"/>
<stop offset="0.8550" stop-color="#DB2C31"/><stop offset="0.8600" stop-color="#DB2C31"/>
<stop offset="0.8600" stop-color="#D92930"/><stop offset="0.8650" stop-color="#D92930"/>
<stop offset="0.8650" stop-color="#D7262F"/><stop offset="0.8700" stop-color="#D7262F"/>
<stop offset="0.8700" stop-color="#D5232E"/><stop offset="0.8750" stop-color="#D5232E"/>
<stop offset="0.8750" stop-color="#D4212E"/><stop offset="0.8800" stop-color="#D4212E"/>
<stop offset="0.8800" stop-color="#D21E2D"/><stop offset="0.8850" stop-color="#D21E2D"/>
<stop offset="0.8850" stop-color="#D01B2C"/><stop offset="0.8900" stop-color="#D01B2C"/>
<stop offset="0.8900" stop-color="#CE182B"/><stop offset="0.8950" stop-color="#CE182B"/>
<stop offset="0.8950" stop-color="#CC152A"/><stop offset="0.9000" stop-color="#CC152A"/>
<stop offset="0.9000" stop-color="#C91429"/><stop offset="0.9050" stop-color="#C91429"/>
<stop offset="0.9050" stop-color="#C51328"/><stop offset="0.9100" stop-color="#C51328"/>
<stop offset="0.9100" stop-color="#C11227"/><stop offset="0.9150" stop-color="#C11227"/>
<stop offset="0.9150" stop-color="#BD1126"/><stop offset="0.9200" stop-color="#BD1126"/>
<stop offset="0.9200" stop-color="#B91025"/><stop offset="0.9250" stop-color="#B91025"/>
<stop offset="0.9250" stop-color="#B60F24"/><stop offset="0.9300" stop-color="#B60F24"/>
<stop offset="0.9300" stop-color="#B20E23"/><stop offset="0.9350" stop-color="#B20E23"/>
<stop offset="0.9350" stop-color="#AE0D22"/><stop offset="0.9400" stop-color="#AE0D22"/>
<stop offset="0.9400" stop-color="#AA0C21"/><stop offset="0.9450" stop-color="#AA0C21"/>
<stop offset="0.9450" stop-color="#A60A20"/><stop offset="0.9500" stop-color="#A60A20"/>
<stop offset="0.9500" stop-color="#A20A20"/><stop offset="0.9550" stop-color="#A20A20"/>
<stop offset="0.9550" stop-color="#9D081F"/><stop offset="0.9600" stop-color="#9D081F"/>
<stop offset="0.9600" stop-color="#98071E"/><stop offset="0.9650" stop-color="#98071E"/>
<stop offset="0.9650" stop-color="#93061E"/><stop offset="0.9700" stop-color="#93061E"/>
<stop offset="0.9700" stop-color="#8E051D"/><stop offset="0.9750" stop-color="#8E051D"/>
<stop offset="0.9750" stop-color="#89041C"/><stop offset="0.9800" stop-color="#89041C"/>
<stop offset="0.9800" stop-color="#84031B"/><stop offset="0.9850" stop-color="#84031B"/>
<stop offset="0.9850" stop-color="#7F021B"/><stop offset="0.9900" stop-color="#7F021B"/>
<stop offset="0.9900" stop-color="#7A011A"/><stop offset="0.9950" stop-color="#7A011A"/>
<stop offset="0.9950" stop-color="#750019"/><stop offset="1.0000" stop-color="#750019"/>
</linearGradient></defs>
<rect x="1499.0" y="154.70" width="50.5" height="1419.50" fill="url(#cb)" stroke="#000" stroke-width="2.7"/>
<g stroke="#000" stroke-width="3">
<path d="M1549.5 154.70H1560"/>
<path d="M1549.5 296.65H1560"/>
<path d="M1549.5 438.60H1560"/>
<path d="M1549.5 580.55H1560"/>
<path d="M1549.5 722.50H1560"/>
<path d="M1549.5 864.45H1560"/>
<path d="M1549.5 1006.40H1560"/>
<path d="M1549.5 1148.35H1560"/>
<path d="M1549.5 1290.30H1560"/>
<path d="M1549.5 1432.25H1560"/>
<path d="M1549.5 1574.20H1560"/>
</g>
<g font-family="'Liberation Sans', Arial, sans-serif" font-size="46.5" fill="#000" stroke="#000" stroke-width="0.5" text-anchor="middle">
<text transform="translate(1609.5 171.35) scale(1 1.0)">1</text>
<text transform="translate(1609.5 313.30) scale(1 1.0)">0.8</text>
<text transform="translate(1609.5 455.25) scale(1 1.0)">0.6</text>
<text transform="translate(1609.5 597.20) scale(1 1.0)">0.4</text>
<text transform="translate(1609.5 739.15) scale(1 1.0)">0.2</text>
<text transform="translate(1609.5 881.10) scale(1 1.0)">0</text>
<text transform="translate(1609.5 1023.05) scale(1 1.0)">-0.2</text>
<text transform="translate(1609.5 1165.00) scale(1 1.0)">-0.4</text>
<text transform="translate(1609.5 1306.95) scale(1 1.0)">-0.6</text>
<text transform="translate(1609.5 1448.90) scale(1 1.0)">-0.8</text>
<text transform="translate(1609.5 1590.85) scale(1 1.0)">-1</text>
</g>
</g>
<use href="#c" filter="url(#soft)" opacity="0.55"/>
</svg>
</body></html>
